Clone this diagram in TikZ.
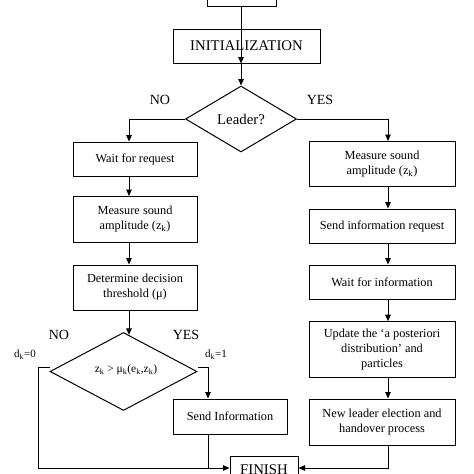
\documentclass[tikz,border=0pt]{standalone}
\usepackage{fontspec}
\setmainfont{Liberation Serif}
\usetikzlibrary{shapes.geometric,arrows.meta,calc}
\tikzset{
  box/.style={draw,line width=1pt,fill=white,inner sep=1pt,align=center,
    font=\fontsize{12.3}{15}\selectfont},
  bigtext/.style={font=\fontsize{14.8}{17}\selectfont},
  dia/.style={draw,line width=1pt,shape=diamond,inner sep=0pt,align=center},
  arr/.style={line width=1pt,-{Triangle[length=6.5pt,width=5.5pt]}},
  ln/.style={line width=1pt},
  lbl/.style={inner sep=0pt,font=\fontsize{14}{16}\selectfont},
  small/.style={inner sep=0pt,font=\fontsize{11}{13}\selectfont}
}
\begin{document}
\begin{tikzpicture}[x=1pt,y=-1pt]
\useasboundingbox (0,0) rectangle (474,474);
\clip (0,0) rectangle (474,474);
\fill[white] (0,0) rectangle (474,474);
% nodes
\node[box,minimum width=69pt,minimum height=30pt] (start) at (241.5,-9) {};
\node[box,bigtext,minimum width=147pt,minimum height=34pt] (init) at (246.5,46) {INITIALIZATION};
\node[dia,bigtext,minimum width=111pt,minimum height=66pt] (lead) at (241,119) {Leader?};
\node[box,minimum width=124pt,minimum height=34pt] (wait) at (135,159) {Wait for request};
\node[box,minimum width=124pt,minimum height=46pt] (measL) at (135,219.5) {Measure sound\\amplitude (z\textsubscript{k})};
\node[box,minimum width=124pt,minimum height=45pt] (det) at (135,287.5) {Determine decision\\threshold (μ)};
\node[dia,minimum width=147pt,minimum height=78pt] (d2) at (123.5,371.5) {};
\node[inner sep=0pt,font=\fontsize{11.5}{13}\selectfont] (d2txt) at (126,370) {z\textsubscript{k} > μ\textsubscript{k}(e\textsubscript{k},z\textsubscript{k})};
\node[box,minimum width=114pt,minimum height=35pt] (si) at (230,416.5) {Send Information};
\node[box,bigtext,minimum width=68pt,minimum height=28pt] (fin) at (264,470) {FINISH};
\node[box,minimum width=146pt,minimum height=45pt] (measR) at (382,164) {Measure sound\\amplitude (z\textsubscript{k})};
\node[box,minimum width=146pt,minimum height=34pt] (sreq) at (382,226) {Send information request};
\node[box,minimum width=146pt,minimum height=34pt] (winfo) at (382,282) {Wait for information};
\node[box,minimum width=146pt,minimum height=56pt] (upd) at (382,349.7) {Update the ‘a posteriori\\distribution’ and\\particles};
\node[box,minimum width=146pt,minimum height=46.6pt] (nl) at (382,422.3) {New leader election and\\handover process};
% labels
\node[lbl] (no1) at (160,100) {NO};
\node[lbl] (yes1) at (320,100) {YES};
\node[lbl] (no2) at (59,335) {NO};
\node[lbl] (yes2) at (186,335) {YES};
\node[small] (dk0) at (25,355) {d\textsubscript{k}=0};
\node[small] (dk1) at (216,355) {d\textsubscript{k}=1};
% helper coordinates
\coordinate (finL) at ([yshift=2pt]fin.west);
\coordinate (finR) at ([yshift=2pt]fin.east);
\coordinate (d2top) at ($(d2.north)+(5.5,2.9)$);
\coordinate (d2W) at ([yshift=4pt]d2.west);
\coordinate (d2E) at ([yshift=4pt]d2.east);
\coordinate (siN) at ([xshift=-22pt]si.north);
\coordinate (siS) at ([xshift=-22pt]si.south);
% connectors
\draw[arr] (start.south -| lead.north) -- (init.south -| lead.north |- init.north);
\draw[arr] (init.south -| lead.north) -- (lead.north);
\draw[arr] (lead.west) -| ([xshift=-6pt]wait.north);
\draw[arr] (lead.east) -| ([xshift=6pt]measR.north);
\draw[arr] ([xshift=-6pt]wait.south) -- ([xshift=-6pt]measL.north);
\draw[arr] ([xshift=-6pt]measL.south) -- ([xshift=-6pt]det.north);
\draw[arr] ([xshift=-6pt]det.south) -- (d2top);
\draw[arr] (d2W) -- ++(-11,0) |- (finL);
\draw[arr] (d2E) -| (siN);
\draw[ln] (siS) -- (siS |- finL);
\draw[arr] ([xshift=6pt]measR.south) -- ([xshift=6pt]sreq.north);
\draw[arr] ([xshift=6pt]sreq.south) -- ([xshift=6pt]winfo.north);
\draw[arr] ([xshift=6pt]winfo.south) -- ([xshift=6pt]upd.north);
\draw[arr] ([xshift=6pt]upd.south) -- ([xshift=6pt]nl.north);
\draw[arr] ([xshift=6pt]nl.south) |- (finR);
\end{tikzpicture}
\end{document}
